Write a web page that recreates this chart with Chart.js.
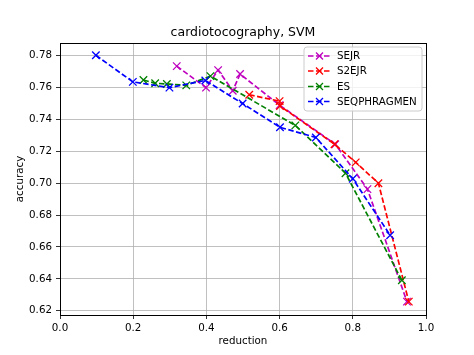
<!DOCTYPE html>
<html>
<head>
<meta charset="utf-8">
<script src="https://cdn.jsdelivr.net/npm/chart.js@4/dist/chart.umd.min.js"></script>
<style>
  html, body { margin: 0; padding: 0; background: #fff; }
  #wrap { position: relative; width: 474px; height: 355px; }
</style>
</head>
<body>
<div id="wrap"><canvas id="c" width="474" height="355"></canvas></div>
<script>
// ---- data ----
const chartTitle = "cardiotocography, SVM";
const xTitle = "reduction";
const yTitle = "accuracy";
const seriesNames = ["SEJR", "S2EJR", "ES", "SEQPHRAGMEN"];

const sejrX = [0.319, 0.399, 0.432, 0.472, 0.492, 0.600, 0.752, 0.840, 0.948];
const sejrY = [0.7735, 0.7600, 0.7710, 0.7580, 0.7685, 0.7490, 0.7245, 0.6963, 0.6257];

const s2ejrX = [0.517, 0.600, 0.601, 0.750, 0.808, 0.870, 0.953];
const s2ejrY = [0.7555, 0.7515, 0.7485, 0.7245, 0.7131, 0.7000, 0.6257];

const esX = [0.228, 0.260, 0.292, 0.345, 0.411, 0.643, 0.780, 0.934];
const esY = [0.7648, 0.7627, 0.7623, 0.7614, 0.7672, 0.7363, 0.7063, 0.6391];

const seqX = [0.098, 0.199, 0.299, 0.397, 0.499, 0.601, 0.699, 0.800, 0.902];
const seqY = [0.7803, 0.7636, 0.7600, 0.7645, 0.7500, 0.7351, 0.7287, 0.7028, 0.6674];

const xTicks = [0.0, 0.2, 0.4, 0.6, 0.8, 1.0];
const yTicks = [0.62, 0.64, 0.66, 0.68, 0.70, 0.72, 0.74, 0.76, 0.78];

const colors = ["#bf00bf", "#ff0000", "#008000", "#0000ff"];

function pts(xs, ys) { return xs.map((x, i) => ({x: x, y: ys[i]})); }
const allX = [sejrX, s2ejrX, esX, seqX];
const allY = [sejrY, s2ejrY, esY, seqY];

const FONT = "'DejaVu Sans', sans-serif";
const DASH = [5.5, 2.5];
const LW = 1.7;

const datasets = seriesNames.map((name, i) => ({
  label: name,
  data: pts(allX[i], allY[i]),
  showLine: true,
  borderColor: colors[i],
  backgroundColor: colors[i],
  borderWidth: LW,
  borderDash: DASH,
  pointStyle: 'crossRot',
  pointRadius: 5.3,
  pointHoverRadius: 5.3,
  pointBorderWidth: 1.3,
  pointBorderColor: colors[i],
  tension: 0,
  order: seriesNames.length - i
}));

const framePlugin = {
  id: 'frame',
  afterDraw(chart) {
    const ctx = chart.ctx;
    const a = chart.chartArea;
    ctx.save();
    // axes box
    ctx.strokeStyle = '#000';
    ctx.lineWidth = 1;
    ctx.strokeRect(Math.round(a.left) + 0.5, Math.round(a.top) + 0.5,
                   Math.round(a.right - a.left), Math.round(a.bottom - a.top));
    // title
    ctx.fillStyle = '#000';
    ctx.font = '12.5px ' + FONT;
    ctx.textAlign = 'center';
    ctx.textBaseline = 'middle';
    ctx.fillText(chartTitle, (a.left + a.right) / 2, 33);

    // legend
    const lx = 304, ly = 47, lw = 118, lh = 64, r = 3;
    ctx.beginPath();
    ctx.moveTo(lx + r, ly);
    ctx.lineTo(lx + lw - r, ly);
    ctx.quadraticCurveTo(lx + lw, ly, lx + lw, ly + r);
    ctx.lineTo(lx + lw, ly + lh - r);
    ctx.quadraticCurveTo(lx + lw, ly + lh, lx + lw - r, ly + lh);
    ctx.lineTo(lx + r, ly + lh);
    ctx.quadraticCurveTo(lx, ly + lh, lx, ly + lh - r);
    ctx.lineTo(lx, ly + r);
    ctx.quadraticCurveTo(lx, ly, lx + r, ly);
    ctx.closePath();
    ctx.fillStyle = 'rgba(255,255,255,0.8)';
    ctx.fill();
    ctx.strokeStyle = '#cccccc';
    ctx.lineWidth = 1;
    ctx.stroke();

    const rowY = [56, 71, 86.5, 101.5];
    ctx.font = '10.3px ' + FONT;
    ctx.textAlign = 'left';
    ctx.textBaseline = 'middle';
    seriesNames.forEach((name, i) => {
      const y = rowY[i];
      ctx.strokeStyle = colors[i];
      ctx.lineWidth = LW;
      ctx.setLineDash(DASH);
      ctx.beginPath();
      ctx.moveTo(308, y);
      ctx.lineTo(331, y);
      ctx.stroke();
      ctx.setLineDash([]);
      ctx.lineWidth = 1.3;
      const cx = 319.5, s = 3.5;
      ctx.beginPath();
      ctx.moveTo(cx - s, y - s); ctx.lineTo(cx + s, y + s);
      ctx.moveTo(cx - s, y + s); ctx.lineTo(cx + s, y - s);
      ctx.stroke();
      ctx.fillStyle = '#000';
      ctx.fillText(name, 337, y + 0.5);
    });
    ctx.restore();
  }
};

new Chart(document.getElementById('c'), {
  type: 'scatter',
  data: { datasets: datasets },
  plugins: [framePlugin],
  options: {
    responsive: false,
    animation: false,
    devicePixelRatio: 1,
    layout: { padding: { left: 0, right: 48, top: 43, bottom: 0 } },
    plugins: {
      legend: { display: false },
      title: { display: false },
      tooltip: { enabled: false }
    },
    scales: {
      x: {
        type: 'linear',
        min: 0, max: 1,
        afterBuildTicks: (s) => { s.ticks = xTicks.map(v => ({value: v})); },
        afterFit: (s) => { s.height = 40; },
        grid: { color: '#b0b0b0', lineWidth: 0.8, tickLength: 4, tickColor: '#000', drawTicks: true },
        border: { display: true, color: '#000', width: 1 },
        ticks: {
          color: '#000', padding: 3, maxRotation: 0,
          font: { family: FONT, size: 10.3 },
          callback: (v) => Number(v).toFixed(1)
        },
        title: {
          display: true, text: xTitle, color: '#000',
          font: { family: FONT, size: 10.3 },
          padding: { top: 0, bottom: 7 }
        }
      },
      y: {
        type: 'linear',
        min: 0.6173, max: 0.7880,
        afterBuildTicks: (s) => { s.ticks = yTicks.map(v => ({value: v})); },
        afterFit: (s) => { s.width = 60; },
        grid: { color: '#b0b0b0', lineWidth: 0.8, tickLength: 4, tickColor: '#000', drawTicks: true },
        border: { display: true, color: '#000', width: 1 },
        ticks: {
          color: '#000', padding: 4,
          font: { family: FONT, size: 10.3 },
          callback: (v) => Number(v).toFixed(2)
        },
        title: {
          display: true, text: yTitle, color: '#000',
          font: { family: FONT, size: 10.3 },
          padding: { top: 14, bottom: 0 }
        }
      }
    }
  }
});
</script>
</body>
</html>
